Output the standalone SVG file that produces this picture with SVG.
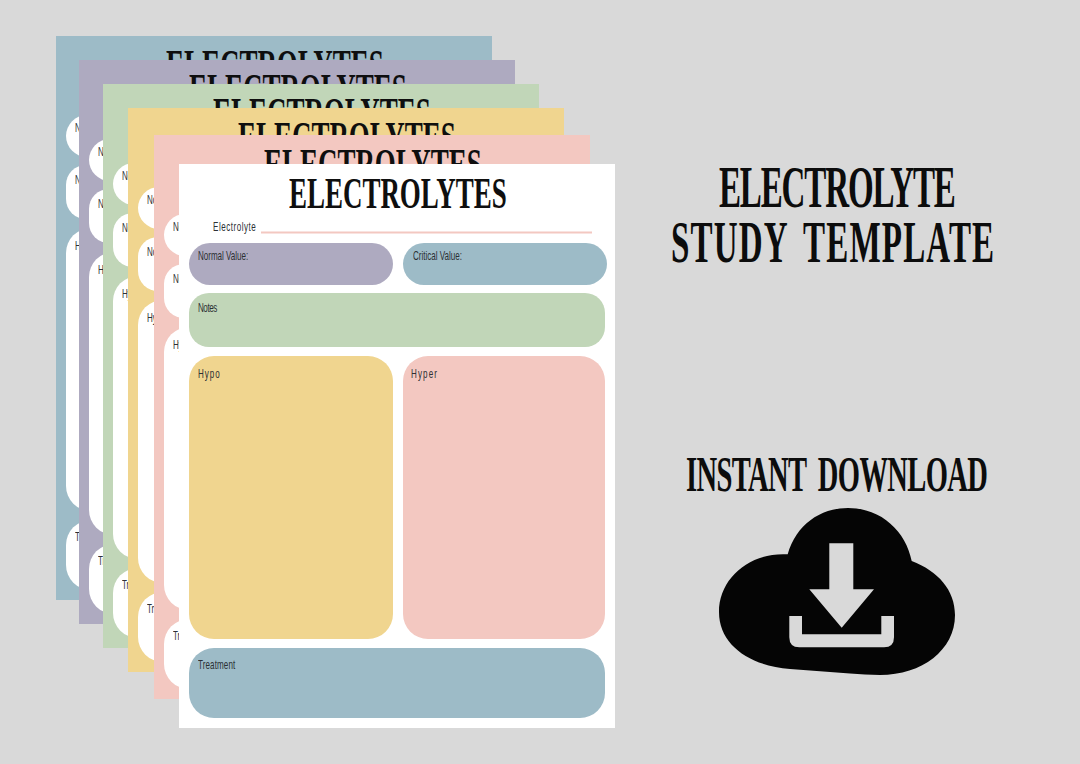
<svg xmlns="http://www.w3.org/2000/svg" width="1080" height="764" viewBox="0 0 1080 764">
<style>
.blue{fill:#9dbbc7}.purple{fill:#aeaac0}.green{fill:#c1d6b8}.yellow{fill:#f0d58f}.pink{fill:#f3c8c1}.white{fill:#fff}
.title{font-family:"Liberation Serif",serif;font-weight:bold;font-size:45px;fill:#0d0d0d;opacity:.99}
.lab{font-family:"Liberation Sans",sans-serif;font-size:13px;fill:#2b2f33;opacity:.99}
.big{font-family:"Liberation Serif",serif;font-weight:bold;fill:#0a0a0a;opacity:.99}
</style>
<defs>
<g id="cards">
<rect class="white" x="189" y="243" width="204" height="42" rx="21"/>
<rect class="white" x="189" y="293" width="416" height="54" rx="20"/>
<rect class="white" x="189" y="356" width="204" height="283" rx="25"/>
<rect class="white" x="189" y="648" width="416" height="70" rx="25"/>
</g>
</defs>
<rect width="1080" height="764" fill="#d9d9d9"/>
<g id="page-blue" transform="translate(-123,-128)">
<rect class="blue" x="179" y="164" width="436" height="564"/><use href="#cards"/>
<text class="title" transform="translate(289 208) scale(.6 1)" textLength="363">ELECTROLYTES</text>
<text class="lab" transform="translate(198 260) scale(.62 1)">N</text><text class="lab" transform="translate(198 312) scale(.62 1)">N</text><text class="lab" transform="translate(198 378) scale(.62 1)">H</text><text class="lab" transform="translate(198 669) scale(.62 1)">T</text>
</g>
<g id="page-purple" transform="translate(-100,-104)">
<rect class="purple" x="179" y="164" width="436" height="564"/><use href="#cards"/>
<text class="title" transform="translate(289 208) scale(.6 1)" textLength="363">ELECTROLYTES</text>
<text class="lab" transform="translate(198 260) scale(.62 1)">N</text><text class="lab" transform="translate(198 312) scale(.62 1)">N</text><text class="lab" transform="translate(198 378) scale(.62 1)">H</text><text class="lab" transform="translate(198 669) scale(.62 1)">Tr</text>
</g>
<g id="page-green" transform="translate(-76,-80)">
<rect class="green" x="179" y="164" width="436" height="564"/><use href="#cards"/>
<text class="title" transform="translate(289 208) scale(.6 1)" textLength="363">ELECTROLYTES</text>
<text class="lab" transform="translate(198 260) scale(.62 1)">No</text><text class="lab" transform="translate(198 312) scale(.62 1)">No</text><text class="lab" transform="translate(198 378) scale(.62 1)">Hy</text><text class="lab" transform="translate(198 669) scale(.62 1)">Tr</text>
</g>
<g id="page-yellow" transform="translate(-51,-56)">
<rect class="yellow" x="179" y="164" width="436" height="564"/><use href="#cards"/>
<text class="title" transform="translate(289 208) scale(.6 1)" textLength="363">ELECTROLYTES</text>
<text class="lab" transform="translate(198 260) scale(.62 1)">No</text><text class="lab" transform="translate(198 312) scale(.62 1)">No</text><text class="lab" transform="translate(198 378) scale(.62 1)">Hy</text><text class="lab" transform="translate(198 669) scale(.62 1)">Tr</text>
</g>
<g id="page-pink" transform="translate(-25,-29)">
<rect class="pink" x="179" y="164" width="436" height="564"/><use href="#cards"/>
<text class="title" transform="translate(289 208) scale(.6 1)" textLength="363">ELECTROLYTES</text>
<text class="lab" transform="translate(198 260) scale(.62 1)">No</text><text class="lab" transform="translate(198 312) scale(.62 1)">No</text><text class="lab" transform="translate(198 378) scale(.62 1)">Hy</text><text class="lab" transform="translate(198 669) scale(.62 1)">Tr</text>
</g>
<g id="page-front">
<rect class="white" x="179" y="164" width="436" height="564"/>
<text class="title" transform="translate(289 208) scale(.6 1)" textLength="363">ELECTROLYTES</text>
<text class="lab" transform="translate(213 231) scale(.62 1)" textLength="69">Electrolyte</text>
<rect class="pink" x="261" y="231.5" width="331" height="2"/>
<rect class="purple" x="189" y="243" width="204" height="42" rx="21"/>
<text class="lab" transform="translate(198 260) scale(.62 1)" textLength="81">Normal Value:</text>
<rect class="blue" x="403" y="243" width="204" height="42" rx="21"/>
<text class="lab" transform="translate(413 260) scale(.62 1)" textLength="79">Critical Value:</text>
<rect class="green" x="189" y="293" width="416" height="54" rx="20"/>
<text class="lab" transform="translate(198 312) scale(.62 1)" textLength="31">Notes</text>
<rect class="yellow" x="189" y="356" width="204" height="283" rx="25"/>
<text class="lab" transform="translate(198 378) scale(.62 1)" textLength="35">Hypo</text>
<rect class="pink" x="403" y="356" width="202" height="283" rx="25"/>
<text class="lab" transform="translate(411 378) scale(.62 1)" textLength="42">Hyper</text>
<rect class="blue" x="189" y="648" width="416" height="70" rx="25"/>
<text class="lab" transform="translate(198 669) scale(.62 1)" textLength="60">Treatment</text>
</g>
<g id="heading">
<text class="big" transform="translate(719 207) scale(.56 1)" font-size="59" textLength="423">ELECTROLYTE</text>
<text class="big" transform="translate(671 262) scale(.56 1)" font-size="59" word-spacing="12" textLength="577">STUDY TEMPLATE</text>
<text class="big" transform="translate(686 491) scale(.56 1)" font-size="51" word-spacing="10" textLength="539">INSTANT DOWNLOAD</text>
</g>
<g id="cloud">
<path fill="#050505" d="M787.700 554.300C796 525 820 508 848 508C882 508 906 532 911.700 561C938 571 955 590 955 615C955 650 922 675 880 675C870 675 860 674 850 673.500L790 669C750 666 719 645 719 612C719 578 750 552 787.700 554.300Z"/>
<path fill="#d9d9d9" d="M829.300 543.300H853.300V589.300H874L841.700 627.700L809.300 589.300H829.300Z"/>
<path fill="#d9d9d9" d="M789.300 616H802V634.300H881.300V616H894V637.300Q894 647.300 884 647.300H799.300Q789.300 647.300 789.300 637.300Z"/>
</g>
</svg>
